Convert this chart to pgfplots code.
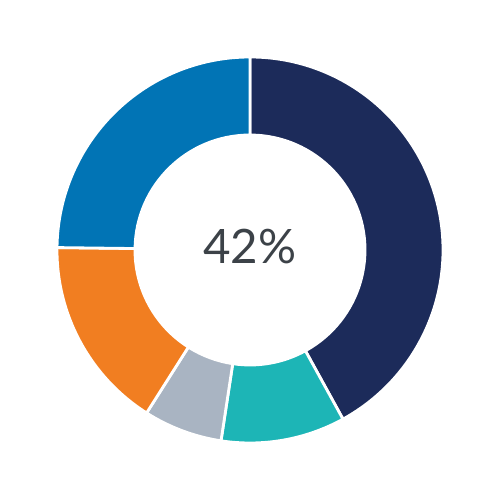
\documentclass[border=0pt]{standalone}
\usepackage{pgfplots}
\pgfplotsset{compat=1.18}
\usepackage{fontspec}
\setmainfont{Lato}
\definecolor{cnavy}{HTML}{1C2B5A}
\definecolor{cteal}{HTML}{1DB5B6}
\definecolor{cgray}{HTML}{A9B4C2}
\definecolor{corange}{HTML}{F17E21}
\definecolor{cblue}{HTML}{0174B5}
\definecolor{ctext}{HTML}{3C4248}
% slice shares in percent (clockwise from 12 o'clock)
\def\vA{42.0}\def\vB{10.4}\def\vC{6.6}\def\vD{16.2}\def\vE{24.8}
\pgfmathsetmacro\aA{90}
\pgfmathsetmacro\aB{\aA-3.6*\vA}
\pgfmathsetmacro\aC{\aB-3.6*\vB}
\pgfmathsetmacro\aD{\aC-3.6*\vC}
\pgfmathsetmacro\aE{\aD-3.6*\vD}
\pgfmathsetmacro\aF{\aE-3.6*\vE}
\def\Ro{1}
\def\Ri{0.5959}
\newcommand\slice[3]{%
  \fill[#3, draw=white, line width=1.6pt, line join=miter]
    (axis cs:{\Ro*cos(#1)},{\Ro*sin(#1)})
    arc[start angle=#1, end angle=#2, radius=3.86cm]
    -- (axis cs:{\Ri*cos(#2)},{\Ri*sin(#2)})
    arc[start angle=#2, end angle=#1, radius=2.30cm] -- cycle;}
\begin{document}
\begin{tikzpicture}
\begin{axis}[hide axis, scale only axis, width=10cm, height=10cm,
  xmin=-1.2953, xmax=1.2953, ymin=-1.2953, ymax=1.2953, clip=false]
  \path (axis cs:-1.2953,-1.2953) rectangle (axis cs:1.2953,1.2953);
  \slice{\aA}{\aB}{cnavy}
  \slice{\aB}{\aC}{cteal}
  \slice{\aC}{\aD}{cgray}
  \slice{\aD}{\aE}{corange}
  \slice{\aE}{\aF}{cblue}
  \node[text=ctext, font=\fontsize{27}{30}\selectfont] at (axis cs:0,0.02) {42\%};
\end{axis}
\end{tikzpicture}
\end{document}
